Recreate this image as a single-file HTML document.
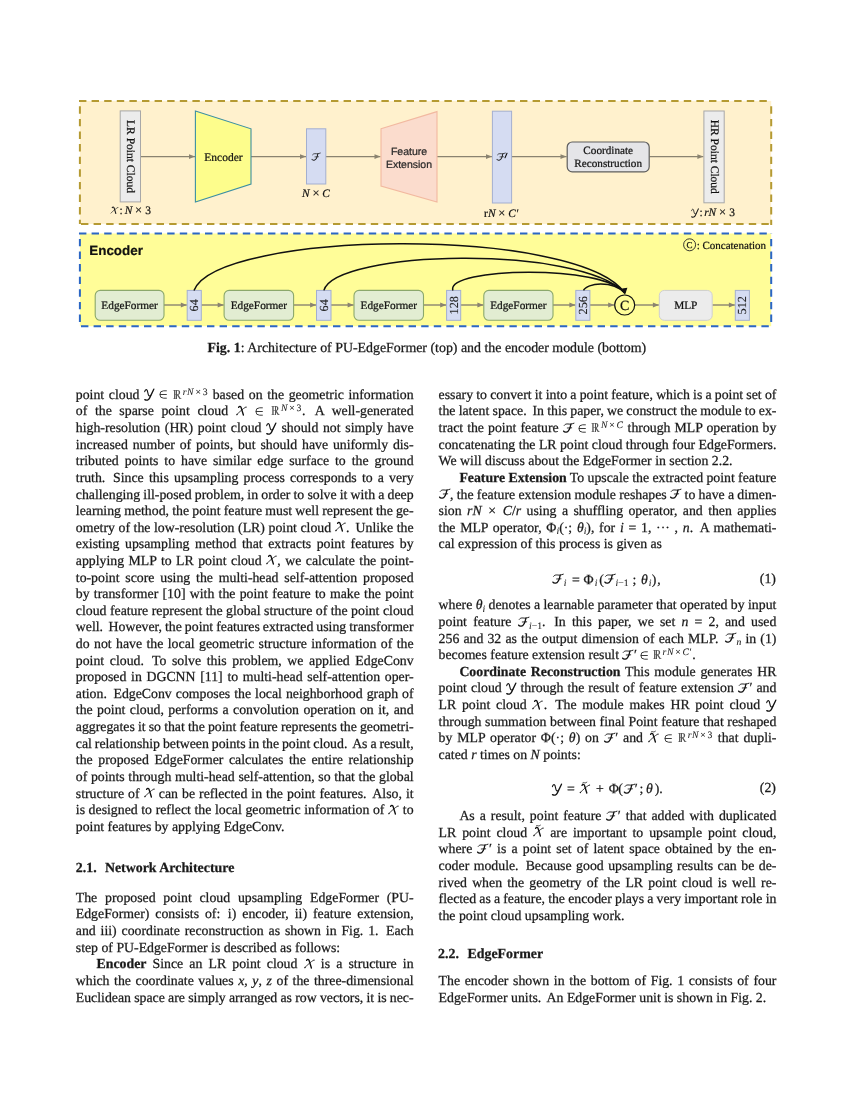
<!DOCTYPE html>
<html><head><meta charset="utf-8">
<style>
html,body{margin:0;padding:0;background:#fff;}
body{width:850px;height:1100px;position:relative;overflow:hidden;font-family:"Liberation Serif",serif;color:#1a1a1a;text-rendering:geometricPrecision;}
#txt{position:absolute;left:0;top:0;width:850px;height:1100px;will-change:transform;-webkit-text-stroke:0.25px #1a1a1a;}
#fig{position:absolute;left:0;top:0;will-change:transform;}
#fig text{stroke:#111;stroke-width:0.22px;}
#fig .dg text{stroke-width:0.1px;}
#fig text.cap{stroke:#1a1a1a;stroke-width:0.25px;}
.l{position:absolute;white-space:nowrap;font-size:13.8px;line-height:16px;height:16px;text-align:justify;text-align-last:justify;}
.L{left:75.8px;width:337.8px;}
.R{left:438.6px;width:337.8px;}
.e{text-align:left;text-align-last:left;}
.i{font-style:italic;}
b{font-weight:bold;}
sup,sub{-webkit-text-stroke-width:0.1px;}
sup{font-size:9.7px;vertical-align:0;position:relative;top:-4.3px;line-height:0;margin-left:1px;letter-spacing:0.6px;}
sub{font-size:9.7px;vertical-align:0;position:relative;top:2.5px;line-height:0;}
.h{position:absolute;font-size:13.9px;font-weight:bold;line-height:16px;white-space:nowrap;}
.bbR{position:relative;display:inline-block;color:#555;-webkit-text-stroke:0;}
.in{vertical-align:-0.5px;display:inline-block;}
.cal{vertical-align:-3.5px;display:inline-block;fill:none;stroke:#111;stroke-linecap:round;overflow:visible;}
.ind{padding-left:20.8px;box-sizing:border-box;}
.tk{position:absolute;transform:translateX(-50%);font-size:13.8px;line-height:16px;white-space:nowrap;}
.tl{position:relative;top:-9px;font-size:11px;}
.sx{margin:0 1.2px;}
.ss{display:inline-block;width:2.6px;}
.sc{display:inline-block;width:1.6px;}
.eq{position:absolute;font-size:13.9px;line-height:16px;white-space:nowrap;}
.eqn{position:absolute;font-size:13.9px;line-height:16px;right:74px;white-space:nowrap;}
.bbR:after{content:"";position:absolute;left:0.28em;top:0.2em;width:0.07em;height:0.66em;background:currentColor;}
</style></head><body>
<svg id="fig" width="850" height="370" viewBox="0 0 850 370">
<defs>
<marker id="ah" markerWidth="8" markerHeight="8" refX="7" refY="4" orient="auto" markerUnits="userSpaceOnUse">
<path d="M1,1.6 L7,4 L1,6.4 Z" fill="#8a8370"/>
</marker>
<marker id="ahk" markerWidth="8" markerHeight="8" refX="6" refY="4" orient="auto" markerUnits="userSpaceOnUse">
<path d="M0,1 L7,4 L0,7 Z" fill="#111"/>
</marker>
</defs>
<!-- top box -->
<rect x="79.9" y="100.9" width="691.3" height="123.2" fill="#fff1cd"/><g stroke="#b59a32" stroke-width="2" stroke-dasharray="7.4 5.2" fill="none"><line x1="79.0" y1="100.9" x2="771.2" y2="100.9"/><line x1="79.9" y1="100.9" x2="79.9" y2="224.1" stroke-dashoffset="7.2"/><line x1="79.9" y1="224.1" x2="771.2" y2="224.1" stroke-dashoffset="11.5"/><line x1="771.2" y1="100.9" x2="771.2" y2="225.0" stroke-dashoffset="7.2"/></g>
<!-- bottom box -->
<rect x="79.9" y="233.5" width="691.3" height="92.7" fill="#fffd98"/><g stroke="#2b66c4" stroke-width="2" stroke-dasharray="7.4 5.2" fill="none"><line x1="79.0" y1="233.5" x2="771.2" y2="233.5"/><line x1="79.9" y1="233.5" x2="79.9" y2="326.2" stroke-dashoffset="7.2"/><line x1="79.9" y1="326.2" x2="771.2" y2="326.2" stroke-dashoffset="11.5"/><line x1="771.2" y1="233.5" x2="771.2" y2="327.1" stroke-dashoffset="7.2"/></g>

<g stroke="#8a8370" stroke-width="1.4" fill="none" marker-end="url(#ah)">
<line x1="140.6" y1="156.6" x2="195" y2="156.6"/>
<line x1="251" y1="156.6" x2="306" y2="156.6"/>
<line x1="325.8" y1="156.6" x2="380.5" y2="156.6"/>
<line x1="437" y1="156.6" x2="492" y2="156.6"/>
<line x1="511.6" y1="156.6" x2="566.5" y2="156.6"/>
<line x1="649.4" y1="156.6" x2="703.4" y2="156.6"/>
</g>
<!-- LR point cloud -->
<rect x="120.2" y="110.9" width="20.3" height="91" fill="#ececec" stroke="#a8a8a8" stroke-width="1"/>
<text transform="translate(130.4,156.5) rotate(90)" text-anchor="middle" dominant-baseline="central" font-family="Liberation Serif" font-size="11.5" fill="#111">LR Point Cloud</text>
<g transform="translate(110.2,213.9) scale(0.76)" fill="none" stroke="#1a1a1a" stroke-linecap="round"><path d="M2.6,-8.2 C3.4,-9.5 4.7,-9.4 5.2,-7.8 L7.4,-0.5" stroke-width="1.37"/><path d="M0.9,-1 C3.5,-3.5 6.5,-6.6 10,-8.6 C10.4,-8.9 10.6,-8.4 10.2,-8" stroke-width="0.79"/></g><text x="119.5" y="213.9" font-family="Liberation Serif" font-size="11.4" fill="#111">:<tspan font-style="italic" dx="2">N</tspan><tspan dx="2.8" font-size="12.5">×</tspan><tspan dx="3.2">3</tspan></text>
<!-- encoder trapezoid -->
<path d="M195.4,111 L251,128.8 L251,184 L195.4,202 Z" fill="#fdfd8c" stroke="#3b8fa3" stroke-width="1.1"/>
<text x="223.5" y="160.8" text-anchor="middle" font-family="Liberation Serif" font-size="11.5" fill="#111">Encoder</text>
<!-- F -->
<rect x="306.5" y="128.8" width="19.3" height="55.2" fill="#d5dcf2" stroke="#a3afd0" stroke-width="1"/>
<g transform="translate(311.5,160.5) scale(0.80)" fill="none" stroke="#1a1a1a" stroke-linecap="round"><path d="M1.3,-7.2 C2.8,-9.5 5.5,-8.2 7.5,-8.4 C9,-8.6 10,-9 11,-9.3" stroke-width="0.95"/><path d="M7.9,-8.4 C7.3,-5 5.7,-0.6 3.3,-0.4 C2,-0.3 1,-0.6 0.6,-1.4" stroke-width="1.32"/><path d="M4.3,-4.5 L8.7,-4.7" stroke-width="0.84"/></g>
<text x="302.1" y="197.3" font-family="Liberation Serif" font-size="11.4" fill="#111"><tspan font-style="italic">N</tspan><tspan dx="2.8" font-size="12.5">×</tspan><tspan dx="2.8" font-style="italic">C</tspan></text>
<!-- feature extension -->
<path d="M381,128.8 L437,111.6 L437,202 L381,186 Z" fill="#fbdccd" stroke="#f2b9a0" stroke-width="1.1"/>
<text x="409" y="155.3" text-anchor="middle" font-family="Liberation Sans" font-size="10.5" fill="#333">Feature</text>
<text x="409" y="168" text-anchor="middle" font-family="Liberation Sans" font-size="10.5" fill="#333">Extension</text>
<!-- F' -->
<rect x="492.4" y="111.2" width="19.2" height="91.8" fill="#d5dcf2" stroke="#a3afd0" stroke-width="1"/>
<g transform="translate(496.5,160.5) scale(0.80)" fill="none" stroke="#1a1a1a" stroke-linecap="round"><path d="M1.3,-7.2 C2.8,-9.5 5.5,-8.2 7.5,-8.4 C9,-8.6 10,-9 11,-9.3" stroke-width="0.95"/><path d="M7.9,-8.4 C7.3,-5 5.7,-0.6 3.3,-0.4 C2,-0.3 1,-0.6 0.6,-1.4" stroke-width="1.32"/><path d="M4.3,-4.5 L8.7,-4.7" stroke-width="0.84"/></g><path d="M507,153.3 L505,157.8" stroke="#111" stroke-width="1.1" stroke-linecap="round"/>
<text x="484.1" y="216.9" font-family="Liberation Serif" font-size="11.4" fill="#111">r<tspan font-style="italic">N</tspan><tspan dx="2.8" font-size="12.5">×</tspan><tspan dx="2.8" font-style="italic">C′</tspan></text>
<!-- coordinate reconstruction -->
<rect x="567.2" y="142" width="82" height="29.8" rx="5" fill="#e5e5e8" stroke="#5e5e5e" stroke-width="1.2"/>
<text x="608.2" y="153.6" text-anchor="middle" font-family="Liberation Serif" font-size="11.2" fill="#111">Coordinate</text>
<text x="608.2" y="166.5" text-anchor="middle" font-family="Liberation Serif" font-size="11.2" fill="#111">Reconstruction</text>
<!-- HR point cloud -->
<rect x="703.9" y="111" width="20.3" height="91.8" fill="#ececec" stroke="#a8a8a8" stroke-width="1"/>
<text transform="translate(714,156.8) rotate(90)" text-anchor="middle" dominant-baseline="central" font-family="Liberation Serif" font-size="11.5" fill="#111">HR Point Cloud</text>
<g transform="translate(691.0,215.9) scale(0.76)" fill="none" stroke="#1a1a1a" stroke-linecap="round"><path d="M0.7,-6.8 C1.2,-8.8 2.6,-9.6 3.3,-8 L4.3,-3.8 C4.6,-2.4 5.6,-2.2 6.7,-3.1" stroke-width="1.06"/><path d="M9.8,-9.3 L5.7,-0.6 C4.7,1.6 2.6,2.3 0.8,1.1" stroke-width="1.32"/></g><text x="699.5" y="215.9" font-family="Liberation Serif" font-size="11.4" fill="#111">:<tspan font-style="italic" dx="1.5">rN</tspan><tspan dx="2.8" font-size="12.5">×</tspan><tspan dx="3.2">3</tspan></text>

<!-- encoder section -->
<text x="89.3" y="255" font-family="Liberation Sans" font-weight="bold" font-size="13.4" fill="#111">Encoder</text>
<text x="766" y="248.6" text-anchor="end" font-family="Liberation Serif" font-size="11" fill="#111">: Concatenation</text>
<circle cx="689.6" cy="244.8" r="6" fill="none" stroke="#222" stroke-width="0.9"/>
<text x="689.6" y="248.2" text-anchor="middle" font-family="Liberation Serif" font-size="9" fill="#111">C</text>

<g stroke="#8a8370" stroke-width="1.4" fill="none" marker-end="url(#ah)">
<line x1="164" y1="305" x2="186.8" y2="305"/>
<line x1="201.3" y1="305" x2="223.7" y2="305"/>
<line x1="293.6" y1="305" x2="316.1" y2="305"/>
<line x1="331" y1="305" x2="353.6" y2="305"/>
<line x1="423.5" y1="305" x2="446.2" y2="305"/>
<line x1="460.7" y1="305" x2="483.4" y2="305"/>
<line x1="553" y1="305" x2="575.4" y2="305"/>
<line x1="589.9" y1="305" x2="614.2" y2="305"/>
<line x1="634.8" y1="305" x2="658.9" y2="305"/>
<line x1="712.2" y1="305" x2="734.9" y2="305"/>
</g>
<g fill="#e2edd2" stroke="#8ba86c" stroke-width="1.1">
<rect x="95.2" y="290.4" width="68.8" height="29.9" rx="5"/>
<rect x="224.1" y="290.4" width="69.5" height="29.9" rx="5"/>
<rect x="354" y="290.4" width="69.5" height="29.9" rx="5"/>
<rect x="483.8" y="290.4" width="69.2" height="29.9" rx="5"/>
</g>
<g font-family="Liberation Serif" font-size="11.3" fill="#111" text-anchor="middle">
<text x="129.6" y="309">EdgeFormer</text>
<text x="258.9" y="309">EdgeFormer</text>
<text x="388.8" y="309">EdgeFormer</text>
<text x="518.4" y="309">EdgeFormer</text>
</g>
<g fill="#d5dcf2" stroke="#a3afd0" stroke-width="1">
<rect x="187.2" y="290.4" width="14.1" height="29.9"/>
<rect x="316.5" y="290.4" width="14.5" height="29.9"/>
<rect x="446.6" y="290.4" width="14.1" height="29.9"/>
<rect x="575.8" y="290.4" width="14.1" height="29.9"/>
<rect x="735.3" y="290.4" width="14.1" height="29.9"/>
</g>
<g class="dg" font-family="Liberation Serif" font-size="12.3" fill="#222" text-anchor="middle">
<text transform="translate(194.2,305.3) rotate(-90)" dominant-baseline="central">64</text>
<text transform="translate(323.8,305.3) rotate(-90)" dominant-baseline="central">64</text>
<text transform="translate(453.6,305.3) rotate(-90)" dominant-baseline="central">128</text>
<text transform="translate(582.8,305.3) rotate(-90)" dominant-baseline="central">256</text>
<text transform="translate(742.3,305.3) rotate(-90)" dominant-baseline="central">512</text>
</g>
<rect x="659.3" y="290.4" width="52.9" height="29.9" rx="5" fill="#ececec" stroke="#cfcfcf" stroke-width="1"/>
<text x="685.8" y="309.2" text-anchor="middle" font-family="Liberation Serif" font-size="11.3" fill="#111">MLP</text>
<circle cx="624.7" cy="305" r="10" fill="none" stroke="#111" stroke-width="1.2"/>
<text x="624.7" y="310" text-anchor="middle" font-family="Liberation Serif" font-size="14" fill="#111">C</text>
<!-- curves -->
<g stroke="#111" stroke-width="1.5" fill="none">
<path d="M194.0,290.4 C217.4,230.2 577.2,225.5 624.8,293.0"/>
<path d="M323.9,290.4 C335.3,250.2 579.8,244.3 624.8,293.0"/>
<path d="M452.9,290.4 C445.4,267.4 604.8,264.3 624.8,293.0"/>
<path d="M583.5,290.4 C587,283 612,280 624.8,293.0"/>
</g>
<path d="M622,288.4 L625,295 L627.4,287.8 Z" fill="#111"/>

<!-- caption -->
<text class="cap" x="207.5" y="352.4" font-family="Liberation Serif" font-size="13.9" fill="#1a1a1a"><tspan font-weight="bold">Fig. 1</tspan>: Architecture of PU-EdgeFormer (top) and the encoder module (bottom)</text>
</svg>

<div id="txt">
<!--BODY-->
<div class="l L" style="top:386.81px">point cloud <svg class="cal" width="10.6" height="15" viewBox="0 -11.5 10.6 15"><path d="M0.7,-6.8 C1.2,-8.8 2.6,-9.6 3.3,-8 L4.3,-3.8 C4.6,-2.4 5.6,-2.2 6.7,-3.1" stroke-width="1.06"/><path d="M9.8,-9.3 L5.7,-0.6 C4.7,1.6 2.6,2.3 0.8,1.1" stroke-width="1.32"/></svg> <svg class="in" width="8.6" height="9" viewBox="0 0 8.6 9"><path d="M7.8,0.8 H4.6 A3.7,3.7 0 0 0 4.6,8.2 H7.8 M0.9,4.5 H7.8" stroke="#1a1a1a" fill="none" stroke-width="0.85"/></svg> <span class="bbR">R</span><sup><i>rN</i><span class="sx">×</span>3</sup> based on the geometric information</div>
<div class="l L" style="top:403.43px">of the sparse point cloud <svg class="cal" width="11.2" height="15" viewBox="0 -11.5 11.2 15"><path d="M2.6,-8.2 C3.4,-9.5 4.7,-9.4 5.2,-7.8 L7.4,-0.5" stroke-width="1.37"/><path d="M0.9,-1 C3.5,-3.5 6.5,-6.6 10,-8.6 C10.4,-8.9 10.6,-8.4 10.2,-8" stroke-width="0.79"/><circle cx="1" cy="-0.9" r="0.75" fill="#1a1a1a" stroke="none"/></svg> <svg class="in" width="8.6" height="9" viewBox="0 0 8.6 9"><path d="M7.8,0.8 H4.6 A3.7,3.7 0 0 0 4.6,8.2 H7.8 M0.9,4.5 H7.8" stroke="#1a1a1a" fill="none" stroke-width="0.85"/></svg> <span class="bbR">R</span><sup><i>N</i><span class="sx">×</span>3</sup>.<span class="ss"></span> A well-generated</div>
<div class="l L" style="top:420.04px">high-resolution (HR) point cloud <svg class="cal" width="10.6" height="15" viewBox="0 -11.5 10.6 15"><path d="M0.7,-6.8 C1.2,-8.8 2.6,-9.6 3.3,-8 L4.3,-3.8 C4.6,-2.4 5.6,-2.2 6.7,-3.1" stroke-width="1.06"/><path d="M9.8,-9.3 L5.7,-0.6 C4.7,1.6 2.6,2.3 0.8,1.1" stroke-width="1.32"/></svg> should not simply have</div>
<div class="l L" style="top:436.66px">increased number of points, but should have uniformly dis-</div>
<div class="l L" style="top:453.27px">tributed points to have similar edge surface to the ground</div>
<div class="l L" style="top:469.88px">truth.<span class="ss"></span> Since this upsampling process corresponds to a very</div>
<div class="l L" style="top:486.50px;word-spacing:-0.31px">challenging ill-posed problem, in order to solve it with a deep</div>
<div class="l L" style="top:503.11px;word-spacing:-0.30px">learning method, the point feature must well represent the ge-</div>
<div class="l L" style="top:519.73px">ometry of the low-resolution (LR) point cloud <svg class="cal" width="11.2" height="15" viewBox="0 -11.5 11.2 15"><path d="M2.6,-8.2 C3.4,-9.5 4.7,-9.4 5.2,-7.8 L7.4,-0.5" stroke-width="1.37"/><path d="M0.9,-1 C3.5,-3.5 6.5,-6.6 10,-8.6 C10.4,-8.9 10.6,-8.4 10.2,-8" stroke-width="0.79"/><circle cx="1" cy="-0.9" r="0.75" fill="#1a1a1a" stroke="none"/></svg>.<span class="ss"></span> Unlike the</div>
<div class="l L" style="top:536.34px">existing upsampling method that extracts point features by</div>
<div class="l L" style="top:552.96px">applying MLP to LR point cloud <svg class="cal" width="11.2" height="15" viewBox="0 -11.5 11.2 15"><path d="M2.6,-8.2 C3.4,-9.5 4.7,-9.4 5.2,-7.8 L7.4,-0.5" stroke-width="1.37"/><path d="M0.9,-1 C3.5,-3.5 6.5,-6.6 10,-8.6 C10.4,-8.9 10.6,-8.4 10.2,-8" stroke-width="0.79"/><circle cx="1" cy="-0.9" r="0.75" fill="#1a1a1a" stroke="none"/></svg>, we calculate the point-</div>
<div class="l L" style="top:569.57px">to-point score using the multi-head self-attention proposed</div>
<div class="l L" style="top:586.19px">by transformer [10] with the point feature to make the point</div>
<div class="l L" style="top:602.80px;word-spacing:-0.00px">cloud feature represent the global structure of the point cloud</div>
<div class="l L" style="top:619.42px;word-spacing:-0.51px">well.<span class="ss"></span> However, the point features extracted using transformer</div>
<div class="l L" style="top:636.03px">do not have the local geometric structure information of the</div>
<div class="l L" style="top:652.65px">point cloud.<span class="ss"></span> To solve this problem, we applied EdgeConv</div>
<div class="l L" style="top:669.26px">proposed in DGCNN [11] to multi-head self-attention oper-</div>
<div class="l L" style="top:685.88px">ation.<span class="ss"></span> EdgeConv composes the local neighborhood graph of</div>
<div class="l L" style="top:702.49px">the point cloud, performs a convolution operation on it, and</div>
<div class="l L" style="top:719.11px;word-spacing:-0.34px">aggregates it so that the point feature represents the geometri-</div>
<div class="l L" style="top:735.72px;word-spacing:-0.54px">cal relationship between points in the point cloud.<span class="ss"></span> As a result,</div>
<div class="l L" style="top:752.34px">the proposed EdgeFormer calculates the entire relationship</div>
<div class="l L" style="top:768.95px">of points through multi-head self-attention, so that the global</div>
<div class="l L" style="top:785.57px">structure of <svg class="cal" width="11.2" height="15" viewBox="0 -11.5 11.2 15"><path d="M2.6,-8.2 C3.4,-9.5 4.7,-9.4 5.2,-7.8 L7.4,-0.5" stroke-width="1.37"/><path d="M0.9,-1 C3.5,-3.5 6.5,-6.6 10,-8.6 C10.4,-8.9 10.6,-8.4 10.2,-8" stroke-width="0.79"/><circle cx="1" cy="-0.9" r="0.75" fill="#1a1a1a" stroke="none"/></svg> can be reflected in the point features.<span class="ss"></span> Also, it</div>
<div class="l L" style="top:802.18px">is designed to reflect the local geometric information of <svg class="cal" width="11.2" height="15" viewBox="0 -11.5 11.2 15"><path d="M2.6,-8.2 C3.4,-9.5 4.7,-9.4 5.2,-7.8 L7.4,-0.5" stroke-width="1.37"/><path d="M0.9,-1 C3.5,-3.5 6.5,-6.6 10,-8.6 C10.4,-8.9 10.6,-8.4 10.2,-8" stroke-width="0.79"/><circle cx="1" cy="-0.9" r="0.75" fill="#1a1a1a" stroke="none"/></svg> to</div>
<div class="l L e" style="top:818.80px">point features by applying EdgeConv.</div>
<div class="h" style="left:75.8px;top:861.01px">2.1.</div><div class="h" style="left:104.9px;top:861.01px">Network Architecture</div>
<div class="l L" style="top:889.81px">The proposed point cloud upsampling EdgeFormer (PU-</div>
<div class="l L" style="top:906.42px">EdgeFormer) consists of:<span class="sc"></span> i) encoder, ii) feature extension,</div>
<div class="l L" style="top:923.04px">and iii) coordinate reconstruction as shown in Fig. 1.<span class="ss"></span> Each</div>
<div class="l L e" style="top:939.65px">step of PU-EdgeFormer is described as follows:</div>
<div class="l L ind" style="top:956.27px"><b>Encoder</b> Since an LR point cloud <svg class="cal" width="11.2" height="15" viewBox="0 -11.5 11.2 15"><path d="M2.6,-8.2 C3.4,-9.5 4.7,-9.4 5.2,-7.8 L7.4,-0.5" stroke-width="1.37"/><path d="M0.9,-1 C3.5,-3.5 6.5,-6.6 10,-8.6 C10.4,-8.9 10.6,-8.4 10.2,-8" stroke-width="0.79"/><circle cx="1" cy="-0.9" r="0.75" fill="#1a1a1a" stroke="none"/></svg> is a structure in</div>
<div class="l L" style="top:972.88px">which the coordinate values <i>x</i>, <i>y</i>, <i>z</i> of the three-dimensional</div>
<div class="l L" style="top:989.50px;word-spacing:-0.23px">Euclidean space are simply arranged as row vectors, it is nec-</div>
<div class="l R" style="top:386.81px;word-spacing:-0.27px">essary to convert it into a point feature, which is a point set of</div>
<div class="l R" style="top:403.43px;word-spacing:-0.26px">the latent space.<span class="ss"></span> In this paper, we construct the module to ex-</div>
<div class="l R" style="top:420.04px">tract the point feature <svg class="cal" width="11.4" height="15" viewBox="0 -11.5 11.4 15"><path d="M1.3,-7.2 C2.8,-9.5 5.5,-8.2 7.5,-8.4 C9,-8.6 10,-9 11,-9.3" stroke-width="0.95"/><path d="M7.9,-8.4 C7.3,-5 5.7,-0.6 3.3,-0.4 C2,-0.3 1,-0.6 0.6,-1.4" stroke-width="1.32"/><path d="M4.3,-4.5 L8.7,-4.7" stroke-width="0.84"/></svg> <svg class="in" width="8.6" height="9" viewBox="0 0 8.6 9"><path d="M7.8,0.8 H4.6 A3.7,3.7 0 0 0 4.6,8.2 H7.8 M0.9,4.5 H7.8" stroke="#1a1a1a" fill="none" stroke-width="0.85"/></svg> <span class="bbR">R</span><sup><i>N</i><span class="sx">×</span><i>C</i></sup> through MLP operation by</div>
<div class="l R" style="top:436.66px;word-spacing:-0.06px">concatenating the LR point cloud through four EdgeFormers.</div>
<div class="l R e" style="top:453.27px">We will discuss about the EdgeFormer in section 2.2.</div>
<div class="l R ind" style="top:469.88px;word-spacing:-0.14px"><b>Feature Extension</b> To upscale the extracted point feature</div>
<div class="l R" style="top:486.50px;word-spacing:-0.21px"><svg class="cal" width="11.4" height="15" viewBox="0 -11.5 11.4 15"><path d="M1.3,-7.2 C2.8,-9.5 5.5,-8.2 7.5,-8.4 C9,-8.6 10,-9 11,-9.3" stroke-width="0.95"/><path d="M7.9,-8.4 C7.3,-5 5.7,-0.6 3.3,-0.4 C2,-0.3 1,-0.6 0.6,-1.4" stroke-width="1.32"/><path d="M4.3,-4.5 L8.7,-4.7" stroke-width="0.84"/></svg>, the feature extension module reshapes <svg class="cal" width="11.4" height="15" viewBox="0 -11.5 11.4 15"><path d="M1.3,-7.2 C2.8,-9.5 5.5,-8.2 7.5,-8.4 C9,-8.6 10,-9 11,-9.3" stroke-width="0.95"/><path d="M7.9,-8.4 C7.3,-5 5.7,-0.6 3.3,-0.4 C2,-0.3 1,-0.6 0.6,-1.4" stroke-width="1.32"/><path d="M4.3,-4.5 L8.7,-4.7" stroke-width="0.84"/></svg> to have a dimen-</div>
<div class="l R" style="top:503.11px">sion <i>rN</i> <span class="sx">×</span> <i>C</i>/<i>r</i> using a shuffling operator, and then applies</div>
<div class="l R" style="top:519.73px">the MLP operator, Φ<sub><i>i</i></sub>(·; <i>θ</i><sub><i>i</i></sub>), for <i>i</i> = 1, ··· , <i>n</i>.<span class="ss"></span> A mathemati-</div>
<div class="l R e" style="top:536.34px">cal expression of this process is given as</div>
<span class="tk" style="left:558.0px;top:571.71px"><svg class="cal" width="11.4" height="15" viewBox="0 -11.5 11.4 15"><path d="M1.3,-7.2 C2.8,-9.5 5.5,-8.2 7.5,-8.4 C9,-8.6 10,-9 11,-9.3" stroke-width="0.95"/><path d="M7.9,-8.4 C7.3,-5 5.7,-0.6 3.3,-0.4 C2,-0.3 1,-0.6 0.6,-1.4" stroke-width="1.32"/><path d="M4.3,-4.5 L8.7,-4.7" stroke-width="0.84"/></svg></span>
<span class="tk" style="left:565.0px;top:571.71px"><sub><i>i</i></sub></span>
<span class="tk" style="left:576.0px;top:571.71px">=</span>
<span class="tk" style="left:588.6px;top:571.71px">Φ</span>
<span class="tk" style="left:596.0px;top:571.71px"><sub><i>i</i></sub></span>
<span class="tk" style="left:601.5px;top:571.71px">(</span>
<span class="tk" style="left:609.5px;top:571.71px"><svg class="cal" width="11.4" height="15" viewBox="0 -11.5 11.4 15"><path d="M1.3,-7.2 C2.8,-9.5 5.5,-8.2 7.5,-8.4 C9,-8.6 10,-9 11,-9.3" stroke-width="0.95"/><path d="M7.9,-8.4 C7.3,-5 5.7,-0.6 3.3,-0.4 C2,-0.3 1,-0.6 0.6,-1.4" stroke-width="1.32"/><path d="M4.3,-4.5 L8.7,-4.7" stroke-width="0.84"/></svg></span>
<span class="tk" style="left:622.0px;top:571.71px"><sub><i>i</i>−1</sub></span>
<span class="tk" style="left:634.5px;top:571.71px">;</span>
<span class="tk" style="left:644.5px;top:571.71px"><i>θ</i></span>
<span class="tk" style="left:650.0px;top:571.71px"><sub><i>i</i></sub></span>
<span class="tk" style="left:654.0px;top:571.71px">)</span>
<span class="tk" style="left:659.0px;top:571.71px">,</span>
<div class="eqn" style="top:571.71px">(1)</div>
<div class="l R" style="top:597.41px;word-spacing:-0.12px">where <i>θ</i><sub><i>i</i></sub> denotes a learnable parameter that operated by input</div>
<div class="l R" style="top:614.02px">point feature <svg class="cal" width="11.4" height="15" viewBox="0 -11.5 11.4 15"><path d="M1.3,-7.2 C2.8,-9.5 5.5,-8.2 7.5,-8.4 C9,-8.6 10,-9 11,-9.3" stroke-width="0.95"/><path d="M7.9,-8.4 C7.3,-5 5.7,-0.6 3.3,-0.4 C2,-0.3 1,-0.6 0.6,-1.4" stroke-width="1.32"/><path d="M4.3,-4.5 L8.7,-4.7" stroke-width="0.84"/></svg><sub><i>i</i>−1</sub>.<span class="ss"></span> In this paper, we set <i>n</i> = 2, and used</div>
<div class="l R" style="top:630.64px">256 and 32 as the output dimension of each MLP.<span class="ss"></span> <svg class="cal" width="11.4" height="15" viewBox="0 -11.5 11.4 15"><path d="M1.3,-7.2 C2.8,-9.5 5.5,-8.2 7.5,-8.4 C9,-8.6 10,-9 11,-9.3" stroke-width="0.95"/><path d="M7.9,-8.4 C7.3,-5 5.7,-0.6 3.3,-0.4 C2,-0.3 1,-0.6 0.6,-1.4" stroke-width="1.32"/><path d="M4.3,-4.5 L8.7,-4.7" stroke-width="0.84"/></svg><sub><i>n</i></sub> in (1)</div>
<div class="l R e" style="top:647.25px">becomes feature extension result <svg class="cal" width="11.4" height="15" viewBox="0 -11.5 11.4 15"><path d="M1.3,-7.2 C2.8,-9.5 5.5,-8.2 7.5,-8.4 C9,-8.6 10,-9 11,-9.3" stroke-width="0.95"/><path d="M7.9,-8.4 C7.3,-5 5.7,-0.6 3.3,-0.4 C2,-0.3 1,-0.6 0.6,-1.4" stroke-width="1.32"/><path d="M4.3,-4.5 L8.7,-4.7" stroke-width="0.84"/></svg>′ <svg class="in" width="8.6" height="9" viewBox="0 0 8.6 9"><path d="M7.8,0.8 H4.6 A3.7,3.7 0 0 0 4.6,8.2 H7.8 M0.9,4.5 H7.8" stroke="#1a1a1a" fill="none" stroke-width="0.85"/></svg> <span class="bbR">R</span><sup><i>rN</i><span class="sx">×</span><i>C</i>′</sup>.</div>
<div class="l R ind" style="top:663.87px"><b>Coordinate Reconstruction</b> This module generates HR</div>
<div class="l R" style="top:680.48px">point cloud <svg class="cal" width="10.6" height="15" viewBox="0 -11.5 10.6 15"><path d="M0.7,-6.8 C1.2,-8.8 2.6,-9.6 3.3,-8 L4.3,-3.8 C4.6,-2.4 5.6,-2.2 6.7,-3.1" stroke-width="1.06"/><path d="M9.8,-9.3 L5.7,-0.6 C4.7,1.6 2.6,2.3 0.8,1.1" stroke-width="1.32"/></svg> through the result of feature extension <svg class="cal" width="11.4" height="15" viewBox="0 -11.5 11.4 15"><path d="M1.3,-7.2 C2.8,-9.5 5.5,-8.2 7.5,-8.4 C9,-8.6 10,-9 11,-9.3" stroke-width="0.95"/><path d="M7.9,-8.4 C7.3,-5 5.7,-0.6 3.3,-0.4 C2,-0.3 1,-0.6 0.6,-1.4" stroke-width="1.32"/><path d="M4.3,-4.5 L8.7,-4.7" stroke-width="0.84"/></svg>′ and</div>
<div class="l R" style="top:697.10px">LR point cloud <svg class="cal" width="11.2" height="15" viewBox="0 -11.5 11.2 15"><path d="M2.6,-8.2 C3.4,-9.5 4.7,-9.4 5.2,-7.8 L7.4,-0.5" stroke-width="1.37"/><path d="M0.9,-1 C3.5,-3.5 6.5,-6.6 10,-8.6 C10.4,-8.9 10.6,-8.4 10.2,-8" stroke-width="0.79"/><circle cx="1" cy="-0.9" r="0.75" fill="#1a1a1a" stroke="none"/></svg>.<span class="ss"></span> The module makes HR point cloud <svg class="cal" width="10.6" height="15" viewBox="0 -11.5 10.6 15"><path d="M0.7,-6.8 C1.2,-8.8 2.6,-9.6 3.3,-8 L4.3,-3.8 C4.6,-2.4 5.6,-2.2 6.7,-3.1" stroke-width="1.06"/><path d="M9.8,-9.3 L5.7,-0.6 C4.7,1.6 2.6,2.3 0.8,1.1" stroke-width="1.32"/></svg></div>
<div class="l R" style="top:713.71px">through summation between final Point feature that reshaped</div>
<div class="l R" style="top:730.33px">by MLP operator Φ(·; <i>θ</i>) on <svg class="cal" width="11.4" height="15" viewBox="0 -11.5 11.4 15"><path d="M1.3,-7.2 C2.8,-9.5 5.5,-8.2 7.5,-8.4 C9,-8.6 10,-9 11,-9.3" stroke-width="0.95"/><path d="M7.9,-8.4 C7.3,-5 5.7,-0.6 3.3,-0.4 C2,-0.3 1,-0.6 0.6,-1.4" stroke-width="1.32"/><path d="M4.3,-4.5 L8.7,-4.7" stroke-width="0.84"/></svg>′ and <svg class="cal" width="11.2" height="15" viewBox="0 -11.5 11.2 15"><path d="M2.6,-8.2 C3.4,-9.5 4.7,-9.4 5.2,-7.8 L7.4,-0.5" stroke-width="1.37"/><path d="M0.9,-1 C3.5,-3.5 6.5,-6.6 10,-8.6 C10.4,-8.9 10.6,-8.4 10.2,-8" stroke-width="0.79"/><circle cx="1" cy="-0.9" r="0.75" fill="#1a1a1a" stroke="none"/><path d="M3.2,-10.6 C4,-11.6 4.8,-10.6 5.8,-10.6 C6.6,-10.6 7,-11.2 7.4,-11.4" stroke-width="0.74"/></svg> <svg class="in" width="8.6" height="9" viewBox="0 0 8.6 9"><path d="M7.8,0.8 H4.6 A3.7,3.7 0 0 0 4.6,8.2 H7.8 M0.9,4.5 H7.8" stroke="#1a1a1a" fill="none" stroke-width="0.85"/></svg> <span class="bbR">R</span><sup><i>rN</i><span class="sx">×</span>3</sup> that dupli-</div>
<div class="l R e" style="top:746.94px">cated <i>r</i> times on <i>N</i> points:</div>
<span class="tk" style="left:557.0px;top:781.31px"><svg class="cal" width="10.6" height="15" viewBox="0 -11.5 10.6 15"><path d="M0.7,-6.8 C1.2,-8.8 2.6,-9.6 3.3,-8 L4.3,-3.8 C4.6,-2.4 5.6,-2.2 6.7,-3.1" stroke-width="1.06"/><path d="M9.8,-9.3 L5.7,-0.6 C4.7,1.6 2.6,2.3 0.8,1.1" stroke-width="1.32"/></svg></span>
<span class="tk" style="left:571.0px;top:781.31px">=</span>
<span class="tk" style="left:585.3px;top:781.31px"><svg class="cal" width="11.2" height="15" viewBox="0 -11.5 11.2 15"><path d="M2.6,-8.2 C3.4,-9.5 4.7,-9.4 5.2,-7.8 L7.4,-0.5" stroke-width="1.37"/><path d="M0.9,-1 C3.5,-3.5 6.5,-6.6 10,-8.6 C10.4,-8.9 10.6,-8.4 10.2,-8" stroke-width="0.79"/><circle cx="1" cy="-0.9" r="0.75" fill="#1a1a1a" stroke="none"/><path d="M3.2,-10.6 C4,-11.6 4.8,-10.6 5.8,-10.6 C6.6,-10.6 7,-11.2 7.4,-11.4" stroke-width="0.74"/></svg></span>
<span class="tk" style="left:600.0px;top:781.31px">+</span>
<span class="tk" style="left:613.7px;top:781.31px">Φ</span>
<span class="tk" style="left:620.5px;top:781.31px">(</span>
<span class="tk" style="left:630.5px;top:781.31px"><svg class="cal" width="11.4" height="15" viewBox="0 -11.5 11.4 15"><path d="M1.3,-7.2 C2.8,-9.5 5.5,-8.2 7.5,-8.4 C9,-8.6 10,-9 11,-9.3" stroke-width="0.95"/><path d="M7.9,-8.4 C7.3,-5 5.7,-0.6 3.3,-0.4 C2,-0.3 1,-0.6 0.6,-1.4" stroke-width="1.32"/><path d="M4.3,-4.5 L8.7,-4.7" stroke-width="0.84"/></svg>′</span>
<span class="tk" style="left:641.5px;top:781.31px">;</span>
<span class="tk" style="left:649.5px;top:781.31px"><i>θ</i></span>
<span class="tk" style="left:657.0px;top:781.31px">)</span>
<span class="tk" style="left:661.0px;top:781.31px">.</span>
<div class="eqn" style="top:781.31px">(2)</div>
<div class="l R ind" style="top:808.11px">As a result, point feature <svg class="cal" width="11.4" height="15" viewBox="0 -11.5 11.4 15"><path d="M1.3,-7.2 C2.8,-9.5 5.5,-8.2 7.5,-8.4 C9,-8.6 10,-9 11,-9.3" stroke-width="0.95"/><path d="M7.9,-8.4 C7.3,-5 5.7,-0.6 3.3,-0.4 C2,-0.3 1,-0.6 0.6,-1.4" stroke-width="1.32"/><path d="M4.3,-4.5 L8.7,-4.7" stroke-width="0.84"/></svg>′ that added with duplicated</div>
<div class="l R" style="top:824.72px">LR point cloud <svg class="cal" width="11.2" height="15" viewBox="0 -11.5 11.2 15"><path d="M2.6,-8.2 C3.4,-9.5 4.7,-9.4 5.2,-7.8 L7.4,-0.5" stroke-width="1.37"/><path d="M0.9,-1 C3.5,-3.5 6.5,-6.6 10,-8.6 C10.4,-8.9 10.6,-8.4 10.2,-8" stroke-width="0.79"/><circle cx="1" cy="-0.9" r="0.75" fill="#1a1a1a" stroke="none"/><path d="M3.2,-10.6 C4,-11.6 4.8,-10.6 5.8,-10.6 C6.6,-10.6 7,-11.2 7.4,-11.4" stroke-width="0.74"/></svg> are important to upsample point cloud,</div>
<div class="l R" style="top:841.34px">where <svg class="cal" width="11.4" height="15" viewBox="0 -11.5 11.4 15"><path d="M1.3,-7.2 C2.8,-9.5 5.5,-8.2 7.5,-8.4 C9,-8.6 10,-9 11,-9.3" stroke-width="0.95"/><path d="M7.9,-8.4 C7.3,-5 5.7,-0.6 3.3,-0.4 C2,-0.3 1,-0.6 0.6,-1.4" stroke-width="1.32"/><path d="M4.3,-4.5 L8.7,-4.7" stroke-width="0.84"/></svg>′ is a point set of latent space obtained by the en-</div>
<div class="l R" style="top:857.95px">coder module.<span class="ss"></span> Because good upsampling results can be de-</div>
<div class="l R" style="top:874.57px">rived when the geometry of the LR point cloud is well re-</div>
<div class="l R" style="top:891.18px;word-spacing:-0.31px">flected as a feature, the encoder plays a very important role in</div>
<div class="l R e" style="top:907.80px">the point cloud upsampling work.</div>
<div class="h" style="left:438.1px;top:946.51px">2.2.</div><div class="h" style="left:467.5px;top:946.51px">EdgeFormer</div>
<div class="l R" style="top:973.11px">The encoder shown in the bottom of Fig. 1 consists of four</div>
<div class="l R e" style="top:989.72px">EdgeFormer units.<span class="ss"></span> An EdgeFormer unit is shown in Fig. 2.</div>
<!--/BODY-->
</div>
</body></html>
